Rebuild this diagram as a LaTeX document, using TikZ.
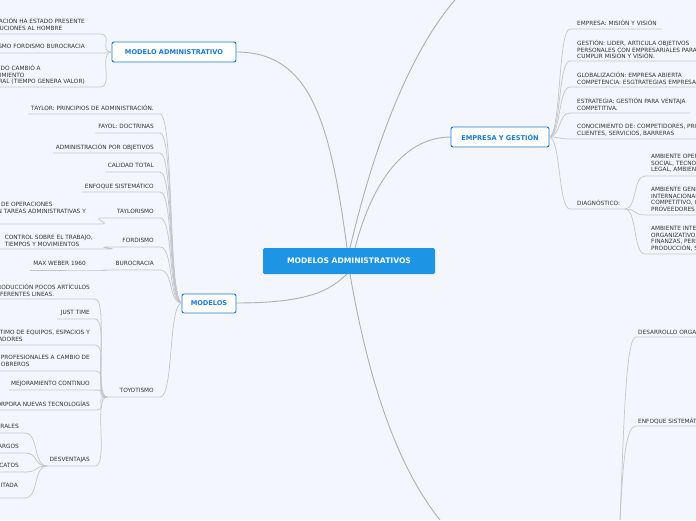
\documentclass[tikz,border=0pt]{standalone}
\usepackage{fontspec}
\setmainfont{DejaVu Sans}
\definecolor{bg}{HTML}{F3F6FD}
\definecolor{ln}{HTML}{C4C6CC}
\definecolor{mln}{HTML}{AEB0B6}
\definecolor{blu}{HTML}{1A78D6}
\definecolor{ctr}{HTML}{1E94E4}
\definecolor{txt}{HTML}{333333}
\newcommand\lfL[8]{\node[leaf,anchor=north east] at (#1,#2) {#3};
 \draw[con] (#4,#6) -- (#5,#6) .. controls ($(#5,#6)+(14,0)$) and ($(#7,#8)-(14,0)$) .. (#7,#8);}
\newcommand\lfR[8]{\node[leaf,anchor=north west] at (#1,#2) {#3};
 \draw[con] (#7,#8) .. controls ($(#7,#8)+(12,0)$) and ($(#4,#6)-(12,0)$) .. (#4,#6) -- (#5,#6);}
\usetikzlibrary{calc}
\begin{document}
\begin{tikzpicture}[x=1pt,y=-1pt,
 leaf/.style={inner sep=0pt,font=\fontsize{5.8}{6.7}\selectfont,text=txt,align=left},
 con/.style={draw=ln,line width=0.7pt},
 mcon/.style={draw=mln,line width=0.9pt},
 main/.style={draw=blu,line width=0.9pt,fill=white,rounded corners=2pt,text=blu,font=\fontsize{6.6}{7}\selectfont\bfseries,inner sep=0pt},
 ctrbox/.style={fill=ctr,rounded corners=1.5pt,text=white,font=\fontsize{7.6}{8}\selectfont\bfseries,inner sep=0pt}]
\fill[bg] (0,0) rectangle (696,520);
\useasboundingbox (0,0) rectangle (696,520);
\clip (0,0) rectangle (696,520);
% main curves
\draw[mcon] (350,248) .. controls (380,120) and (420,40) .. (455,0);
\draw[mcon] (350,274) .. controls (370,390) and (400,470) .. (440,520);
\draw[mcon] (236,52) .. controls (310,52) and (330,120) .. (347,248);
\draw[mcon] (236,303) .. controls (310,303) and (330,290) .. (347,274);
\draw[mcon] (451,137) .. controls (400,137) and (370,190) .. (355,248);
% bottom right
\draw[con] (620,520) .. controls (624,420) and (626,337) .. (636,337) -- (696,337);
\draw[con] (620,520) .. controls (623,460) and (626,426) .. (636,426) -- (696,426);
\node[leaf,anchor=west] (dor) at (638,332) {DESARROLLO ORGAN};
\node[leaf,anchor=west] (esi) at (638,421) {ENFOQUE SISTEMÁT};
% nodes
\node[ctrbox,minimum width=172pt,minimum height=26pt] (c) at (349,261) {MODELOS ADMINISTRATIVOS};
\node[main,minimum width=124pt,minimum height=20pt] (ma) at (174,52) {MODELO ADMINISTRATIVO};
\node[main,minimum width=54pt,minimum height=19pt] (mo) at (209,303.5) {MODELOS};
\node[main,minimum width=98pt,minimum height=20pt] (eg) at (500,137) {EMPRESA Y GESTIÓN};
% modelo administrativo children
\lfL{85}{18}{LA ADMINISTRACIÓN HA ESTADO PRESENTE\\PARA DAR SOLUCIONES AL HOMBRE}{0}{100}{34}{112}{52}
\lfL{85}{44}{TAYLORISMO FORDISMO BUROCRACIA}{0}{100}{53}{112}{52}
\lfL{85}{65}{EL MUNDO CAMBIÓ A\\CONOCIMIENTO                              \\TEMPORAL (TIEMPO GENERA VALOR)}{0}{100}{87}{112}{52}
% modelos children
\lfL{154}{105}{TAYLOR: PRINCIPIOS DE ADMINISTRACIÓN.}{28}{160}{114}{182}{303}
\lfL{154}{124}{FAYOL: DOCTRINAS}{95}{160}{133}{182}{303}
\lfL{154}{144}{ADMINISTRACIÓN POR OBJETIVOS}{53}{160}{153}{182}{303}
\lfL{154}{163}{CALIDAD TOTAL}{105}{160}{172}{182}{303}
\lfL{154}{183}{ENFOQUE SISTEMÁTICO}{82}{160}{192}{182}{303}
\lfL{154}{209}{TAYLORISMO}{103}{160}{218}{182}{303}
\lfL{154}{238}{FORDISMO}{108}{160}{247}{182}{303}
\lfL{154}{261}{BUROCRACIA}{103}{160}{270}{182}{303}
\lfL{154}{388}{TOYOTISMO}{107}{160}{397}{182}{303}
\lfL{86}{201}{PLANEACIÓN DE OPERACIONES\\OBREROS SIN TAREAS ADMINISTRATIVAS Y\\FUNCIONES}{0}{100}{224}{103}{218}
\lfL{93}{235}{CONTROL SOBRE EL TRABAJO,\\TIEMPOS Y MOVIMIENTOS}{0}{108}{249}{108}{247}
\lfL{86}{261}{MAX WEBER 1960}{30}{103}{270}{103}{270}
% toyotismo children
\lfL{90}{284}{PRODUCCIÓN POCOS ARTÍCULOS\\DIFERENTES LINEAS.}{0}{95}{299}{107}{397}
\lfL{90}{310}{JUST TIME}{57}{95}{319}{107}{397}
\lfL{90}{329}{USO ÓPTIMO DE EQUIPOS, ESPACIOS Y\\TRABAJADORES}{0}{95}{345}{107}{397}
\lfL{90}{355}{PROFESIONALES A CAMBIO DE\\OBREROS                                          }{0}{95}{371}{107}{397}
\lfL{90}{381}{MEJORAMIENTO CONTINUO}{9}{95}{390}{107}{397}
\lfL{90}{401}{INCORPORA NUEVAS TECNOLOGÍAS}{0}{95}{410}{107}{397}
\lfL{90}{457}{DESVENTAJAS}{47}{95}{466}{107}{397}
\lfL{19}{424}{RALES}{0}{25}{433}{47}{466}
\lfL{19}{444}{ARGOS}{0}{25}{453}{47}{466}
\lfL{19}{463}{ICATOS}{0}{25}{472}{47}{466}
\lfL{18}{483}{ITADA}{0}{25}{498}{47}{466}
% empresa y gestion children
\lfR{577}{20}{EMPRESA: MISIÓN Y VISIÓN}{570}{662}{29}{549}{137}
\lfR{577}{40}{GESTIÓN: LIDER, ARTICULA OBJETIVOS\\PERSONALES CON EMPRESARIALES PARA\\CUMPLIR MISIÓN Y VISIÓN.}{570}{696}{61}{549}{137}
\lfR{577}{72}{GLOBALIZACIÓN: EMPRESA ABIERTA\\COMPETENCIA: ESGTRATEGIAS EMPRESAR}{570}{696}{87}{549}{137}
\lfR{577}{98}{ESTRATEGIA: GESTIÓN PARA VENTAJA\\COMPETITIVA.}{570}{690}{113}{549}{137}
\lfR{577}{124}{CONOCIMIENTO DE: COMPETIDORES, PRO\\CLIENTES, SERVICIOS, BARRERAS}{570}{696}{139}{549}{137}
\lfR{577}{200}{DIAGNÓSTICO:}{570}{625}{209}{549}{137}
\lfR{651}{154}{AMBIENTE OPER\\SOCIAL, TECNO\\LEGAL, AMBIENT}{645}{696}{176}{625}{209}
\lfR{651}{187}{AMBIENTE GENE\\INTERNACIONAL\\COMPETITIVO, C\\PROVEEDORES}{645}{696}{215}{625}{209}
\lfR{651}{226}{AMBIENTE INTE\\ORGANIZATIVO,\\FINANZAS, PERS\\PRODUCCIÓN, S}{645}{696}{254}{625}{209}
\end{tikzpicture}
\end{document}
